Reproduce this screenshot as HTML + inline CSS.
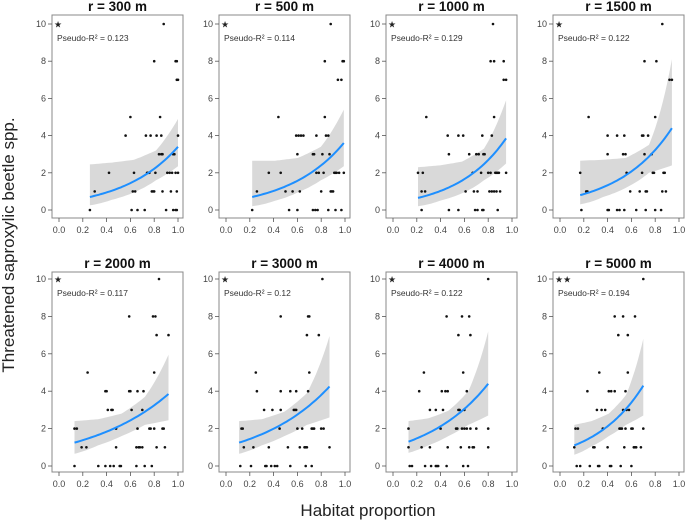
<!DOCTYPE html>
<html><head><meta charset="utf-8">
<style>
html,body{margin:0;padding:0;background:#fff;}
svg{display:block;font-family:"Liberation Sans",Arial,sans-serif;}
</style></head>
<body>
<svg id="chart" width="685" height="523" viewBox="0 0 685 523">
<text x="14" y="245" transform="rotate(-90 14 245)" text-anchor="middle" font-size="17" fill="#222">Threatened saproxylic beetle spp.</text>
<text x="368" y="516" text-anchor="middle" font-size="17" fill="#222">Habitat proportion</text>
</svg>
<script>
const titles = ["r = 300 m","r = 500 m","r = 1000 m","r = 1500 m","r = 2000 m","r = 3000 m","r = 4000 m","r = 5000 m"];
const r2Labels = ["0.123","0.114","0.129","0.122","0.117","0.12","0.122","0.194"];
const stars = ["\u2605","\u2605","\u2605","\u2605","\u2605","\u2605","\u2605","\u2605\u2605"];
const fitRange = [[0.26,1.0],[0.22,0.99],[0.21,0.95],[0.17,0.94],[0.13,0.92],[0.11,0.87],[0.13,0.80],[0.12,0.70]];
const fitEnds = [[0.7,3.4],[0.7,3.6],[0.65,3.85],[0.8,4.4],[1.25,3.85],[1.25,4.25],[1.3,4.4],[1.1,4.3]];
const bandUpper = [[2.45,2.55,2.7,3.2,4.9],[2.65,2.65,2.8,3.4,5.4],[2.3,2.4,2.6,3.3,5.9],[2.65,2.7,2.8,3.5,8.1],[2.4,2.5,2.8,3.7,5.95],[2.4,2.5,2.9,3.9,6.95],[2.4,2.55,2.95,4.0,7.2],[2.2,2.4,2.8,3.8,6.8]];
const bandLower = [[0.25,0.55,0.95,1.6,2.35],[0.2,0.5,0.95,1.6,2.35],[0.2,0.5,0.9,1.6,2.5],[0.3,0.7,1.2,2.0,2.4],[0.65,1.1,1.6,2.2,2.45],[0.65,1.1,1.6,2.2,2.6],[0.7,1.1,1.6,2.2,2.7],[0.6,1.05,1.6,2.2,2.7]];
const pts = [
[[0.26,0],[0.30,1],[0.42,2],[0.56,4],[0.60,5],[0.61,0],[0.62,1],[0.63,2],[0.64,1],[0.66,0],[0.72,0],[0.73,4],[0.74,2],[0.75,2],[0.76,2],[0.77,4],[0.78,1],[0.79,1],[0.80,8],[0.80,1],[0.81,2],[0.82,4],[0.84,3],[0.85,5],[0.86,4],[0.86,3],[0.87,3],[0.87,1],[0.88,10],[0.90,0],[0.91,2],[0.93,2],[0.94,1],[0.95,2],[0.96,0],[0.96,3],[0.97,3],[0.98,0],[0.98,2],[0.98,8],[0.99,1],[0.99,7],[0.99,8],[1.0,7],[1.0,4],[1.0,2],[0.99,0]],
[[0.22,0],[0.26,1],[0.36,2],[0.44,5],[0.46,2],[0.50,1],[0.53,0],[0.56,1],[0.59,4],[0.60,3],[0.60,0],[0.61,4],[0.62,1],[0.63,4],[0.65,4],[0.73,3],[0.73,0],[0.74,3],[0.75,0],[0.76,2],[0.76,4],[0.77,0],[0.78,2],[0.80,1],[0.81,3],[0.82,2],[0.83,8],[0.83,5],[0.84,4],[0.86,0],[0.86,4],[0.87,3],[0.88,10],[0.88,1],[0.89,1],[0.90,1],[0.91,2],[0.92,0],[0.92,2],[0.93,2],[0.94,7],[0.95,2],[0.97,7],[0.97,0],[0.98,8],[0.99,8],[0.99,2]],
[[0.21,2],[0.24,1],[0.24,0],[0.25,2],[0.27,1],[0.28,5],[0.46,4],[0.47,0],[0.47,3],[0.55,4],[0.55,0],[0.59,4],[0.61,1],[0.64,3],[0.67,2],[0.68,1],[0.69,0],[0.70,3],[0.71,0],[0.71,1],[0.72,3],[0.74,2],[0.75,4],[0.75,0],[0.76,3],[0.76,0],[0.77,3],[0.80,2],[0.81,1],[0.82,8],[0.82,2],[0.83,4],[0.83,1],[0.84,10],[0.85,8],[0.85,1],[0.85,5],[0.86,2],[0.87,1],[0.87,2],[0.88,0],[0.88,2],[0.89,2],[0.90,1],[0.93,8],[0.93,7],[0.95,7],[0.95,2]],
[[0.17,2],[0.18,0],[0.22,1],[0.23,1],[0.24,5],[0.40,4],[0.40,3],[0.40,0],[0.41,0],[0.48,4],[0.48,0],[0.50,0],[0.53,3],[0.54,4],[0.54,0],[0.55,3],[0.56,2],[0.59,1],[0.64,0],[0.67,1],[0.69,4],[0.69,2],[0.70,4],[0.71,8],[0.71,3],[0.72,1],[0.72,0],[0.73,1],[0.74,4],[0.77,3],[0.78,2],[0.79,2],[0.80,5],[0.80,0],[0.81,8],[0.85,0],[0.86,10],[0.86,1],[0.87,2],[0.88,2],[0.89,1],[0.92,7],[0.94,7]],
[[0.13,0],[0.13,2],[0.15,2],[0.19,1],[0.23,1],[0.24,5],[0.33,0],[0.39,4],[0.40,4],[0.39,0],[0.41,3],[0.43,0],[0.44,3],[0.45,3],[0.46,0],[0.48,2],[0.48,1],[0.51,0],[0.52,0],[0.59,8],[0.59,4],[0.60,4],[0.61,3],[0.65,0],[0.66,4],[0.66,2],[0.65,1],[0.67,1],[0.68,1],[0.70,3],[0.71,4],[0.70,1],[0.72,0],[0.76,2],[0.77,2],[0.78,0],[0.79,8],[0.80,5],[0.80,2],[0.81,8],[0.82,7],[0.82,1],[0.84,10],[0.87,2],[0.88,2],[0.89,1],[0.92,7]],
[[0.12,0],[0.13,2],[0.14,2],[0.15,1],[0.21,0],[0.23,1],[0.25,5],[0.26,4],[0.32,3],[0.33,0],[0.34,0],[0.36,1],[0.38,0],[0.39,3],[0.41,0],[0.43,0],[0.45,2],[0.46,3],[0.46,8],[0.46,4],[0.52,1],[0.54,0],[0.54,4],[0.57,3],[0.58,3],[0.59,3],[0.59,4],[0.60,2],[0.62,1],[0.64,2],[0.66,1],[0.67,1],[0.67,0],[0.68,7],[0.68,1],[0.69,8],[0.70,8],[0.69,4],[0.70,5],[0.72,0],[0.72,2],[0.73,2],[0.74,2],[0.78,7],[0.80,2],[0.81,10],[0.82,2],[0.87,1]],
[[0.13,2],[0.13,1],[0.14,0],[0.16,0],[0.24,1],[0.26,5],[0.22,4],[0.27,0],[0.31,3],[0.31,1],[0.32,0],[0.36,3],[0.36,0],[0.37,0],[0.38,0],[0.40,2],[0.41,4],[0.42,3],[0.44,4],[0.45,0],[0.45,8],[0.46,4],[0.46,1],[0.53,2],[0.54,2],[0.55,7],[0.55,3],[0.56,3],[0.57,1],[0.58,8],[0.58,2],[0.59,5],[0.59,0],[0.60,2],[0.60,3],[0.62,2],[0.62,4],[0.63,0],[0.64,1],[0.64,8],[0.65,7],[0.65,2],[0.67,1],[0.68,1],[0.70,2],[0.80,10],[0.80,2],[0.80,1]],
[[0.12,1],[0.13,2],[0.14,0],[0.15,2],[0.17,0],[0.23,4],[0.25,0],[0.28,1],[0.29,1],[0.31,3],[0.32,0],[0.33,5],[0.33,0],[0.35,3],[0.36,2],[0.38,3],[0.40,1],[0.41,4],[0.42,0],[0.43,4],[0.43,0],[0.46,8],[0.46,4],[0.49,7],[0.50,2],[0.51,2],[0.51,0],[0.52,2],[0.53,8],[0.53,3],[0.54,1],[0.55,2],[0.55,4],[0.56,3],[0.57,7],[0.57,5],[0.58,3],[0.60,0],[0.60,2],[0.61,2],[0.62,1],[0.63,1],[0.63,8],[0.64,1],[0.68,1],[0.70,10],[0.70,2]]
];
const xTicks = [0,0.2,0.4,0.6,0.8,1.0];
const xTickLabels = ["0.0","0.2","0.4","0.6","0.8","1.0"];
const yTicks = [0,2,4,6,8,10];
const yTickLabels = ["0","2","4","6","8","10"];

const NS = "http://www.w3.org/2000/svg";
const svg = document.getElementById("chart");
function mk(tag, attrs, parent){
  const e = document.createElementNS(NS, tag);
  for (const k in attrs) e.setAttribute(k, attrs[k]);
  (parent||svg).appendChild(e);
  return e;
}
const colX0 = [59,226,393,560];
const rowY10 = [24,279];
const rowY0 = [210,466];
const rowBox = [[15,218],[272,472]];
const xUnit = 119;

for (let p=0; p<8; p++){
  const col = p%4, row = Math.floor(p/4);
  const X = v => colX0[col] + v*xUnit;
  const Y = v => rowY0[row] + (rowY10[row]-rowY0[row])*v/10;
  const g = mk("g", {});
  
  
  const bx0 = colX0[col]-7, bx1 = colX0[col]+124;
  const [by0, by1] = rowBox[row];
  const t = mk("text", {x:(bx0+bx1)/2, y:by0-4, "text-anchor":"middle", "font-size":"13.5", "font-weight":"bold", fill:"#111"}, g);
  t.textContent = titles[p];
  
  
  const [xa, xb] = fitRange[p];
  const up = bandUpper[p], lo = bandLower[p];
  const N = 40;
  function interp(arr, f){
    const s = f*(arr.length-1); const i = Math.min(Math.floor(s), arr.length-2); const u = s-i;
    return Math.exp(Math.log(arr[i])*(1-u) + Math.log(arr[i+1])*u);
  }
  let d = "";
  for (let i=0;i<=N;i++){ const f=i/N; d += (i?"L":"M") + X(xa+(xb-xa)*f).toFixed(1) + "," + Y(interp(up,f)).toFixed(1); }
  for (let i=N;i>=0;i--){ const f=i/N; d += "L" + X(xa+(xb-xa)*f).toFixed(1) + "," + Y(interp(lo,f)).toFixed(1); }
  const band = mk("path", {d:d+"Z", fill:"#d9d9d9", stroke:"none"}, g);
  
  
  pts[p].forEach(pt => {
    const c = mk("circle", {cx:X(pt[0]).toFixed(1), cy:Y(pt[1]).toFixed(1), r:1.3, fill:"#111"}, g);
    
    
  });
  const [fa, fb] = fitEnds[p];
  let dc = "";
  for (let i=0;i<=N;i++){ const f=i/N; const v=Math.exp(Math.log(fa)*(1-f)+Math.log(fb)*f); dc += (i?"L":"M") + X(xa+(xb-xa)*f).toFixed(1) + "," + Y(v).toFixed(1); }
  const curve = mk("path", {d:dc, fill:"none", stroke:"#1e8fff", "stroke-width":"2"}, g);
  
  
  const box = mk("rect", {x:bx0, y:by0, width:bx1-bx0, height:by1-by0, fill:"none", stroke:"#888", "stroke-width":"1"}, g);
  
  
  yTicks.forEach((v,i) => {
    mk("line", {x1:bx0-4, x2:bx0, y1:Y(v), y2:Y(v), stroke:"#555", "stroke-width":"0.8"}, g);
    const tl = mk("text", {x:bx0-6, y:Y(v)+3, "text-anchor":"end", "font-size":"9", fill:"#444"}, g);
    tl.textContent = yTickLabels[i];
    
    
  });
  xTicks.forEach((v,i) => {
    mk("line", {x1:X(v), x2:X(v), y1:by1, y2:by1+4, stroke:"#555", "stroke-width":"0.8"}, g);
    const tl = mk("text", {x:X(v), y:by1+15, "text-anchor":"middle", "font-size":"9", fill:"#444"}, g);
    tl.textContent = xTickLabels[i];
    
    
  });
  const st = mk("text", {x:bx0+2, y:Y(10)+3.5, "font-size":"9", fill:"#222", "font-family":"DejaVu Sans, sans-serif"}, g);
  st.textContent = stars[p];
  
  
  const r2 = mk("text", {x:bx0+5, y:Y(10)+17, "font-size":"8.5", fill:"#333"}, g);
  r2.textContent = "Pseudo-R\u00B2 = " + r2Labels[p];
  
  
}
</script>
</body></html>
